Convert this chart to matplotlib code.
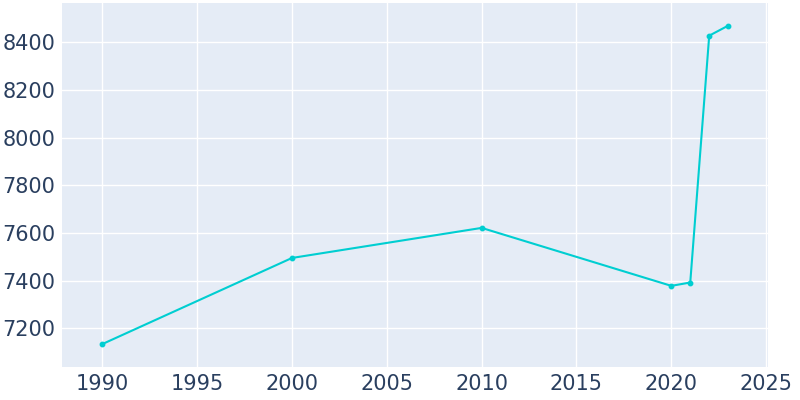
import matplotlib
matplotlib.use("Agg")
import matplotlib.pyplot as plt

years = [1990, 2000, 2010, 2020, 2021, 2022, 2023]
population = [7134, 7495, 7621, 7378, 7392, 8427, 8469]
x_ticks = [1990, 1995, 2000, 2005, 2010, 2015, 2020, 2025]
y_ticks = [7200, 7400, 7600, 7800, 8000, 8200, 8400]

fig = plt.figure(figsize=(8, 4), dpi=100)
ax = fig.add_axes([62 / 800, 1 - 366.7 / 400, (768 - 62) / 800, (366.7 - 3) / 400])
ax.set_facecolor("#E5ECF6")
ax.plot(years, population, color="#00CED1", linewidth=1.5,
        marker="o", markersize=3.2, zorder=3)

ax.set_xlim(1987.87, 2025.1)
ax.set_ylim(7039, 8564)
ax.set_xticks(x_ticks)
ax.set_yticks(y_ticks)
ax.grid(True, color="white", linewidth=1)
ax.set_axisbelow(True)
for s in ax.spines.values():
    s.set_visible(False)
ax.tick_params(length=0, labelsize=15, labelcolor="#2a3f5f", pad=5)

fig.savefig("out.png", dpi=100)
